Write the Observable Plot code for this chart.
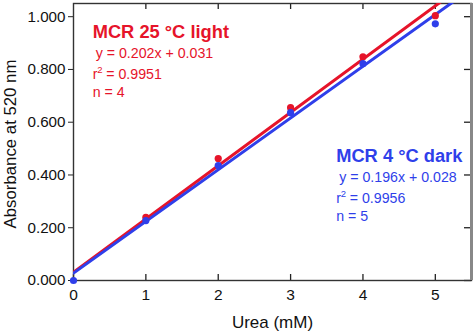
<!DOCTYPE html>
<html>
<head>
<meta charset="utf-8">
<script src="https://cdn.jsdelivr.net/npm/d3@7"></script>
<script src="https://cdn.jsdelivr.net/npm/@observablehq/plot@0.6"></script>
<style>
  html, body { margin: 0; padding: 0; background: #fff; }
  #chart svg { font-family: "Liberation Sans", Arial, sans-serif; display: block; }
</style>
</head>
<body>
<div id="chart"></div>
<script>
// ---- data ----
const urea = [0, 1, 2, 3, 4, 5];
const lightAbs = [null, 0.239, 0.462, 0.655, 0.848, 1.004];   // MCR 25 °C light
const darkAbs  = [0.000, 0.227, 0.436, 0.636, 0.822, 0.973];  // MCR 4 °C dark
const seriesNames = ["MCR 25 °C light", "MCR 4 °C dark"];
const slopes = [0.202, 0.196];
const intercepts = [0.031, 0.028];
const eqLabels = ["y = 0.202x + 0.031", "y = 0.196x + 0.028"];
const r2Labels = ["0.9951", "0.9956"];
const nLabels = ["n = 4", "n = 5"];
const xTicks = [0, 1, 2, 3, 4, 5];
const yTicks = [0, 0.2, 0.4, 0.6, 0.8, 1.0];
const fitRange = [0, 5.5];

const RED = "#e6142a";
const BLUE = "#2f3fea";
const colors = [RED, BLUE];

const W = 474, H = 335, mt = 3, mb = 55, ml = 73, mr = 3;
const FH = H - mt - mb, FW = W - ml - mr;

const points = [];
urea.forEach((u, i) => {
  if (lightAbs[i] != null) points.push({x: u, y: lightAbs[i], s: 0});
  if (darkAbs[i] != null) points.push({x: u, y: darkAbs[i], s: 1});
});
const fits = [];
[0, 1].forEach(s => fitRange.forEach(x => fits.push({x, y: slopes[s] * x + intercepts[s], s})));

// annotation anchors (data coordinates)
const notes = [
  {s: 0, x: 0.265, y: 0.92},
  {s: 1, x: 3.63, y: 0.448}
];

const small = {fill: d => colors[d.s], fontSize: 14.2, textAnchor: "start", lineAnchor: "bottom"};

const plot = Plot.plot({
  width: W, height: H,
  marginTop: mt, marginBottom: mb, marginLeft: ml, marginRight: mr,
  style: {fontFamily: "Liberation Sans, Arial, sans-serif", background: "#fff"},
  x: {type: "linear", domain: [0, 5.5], ticks: xTicks, label: null},
  y: {type: "linear", domain: [0, 1.05], ticks: yTicks, label: null},
  marks: [
    // inward ticks bottom / top / right
    Plot.ruleX(xTicks, {x: d => d, insetTop: FH - 6, stroke: "#222", strokeWidth: 1.3}),
    Plot.ruleX(xTicks.slice(1), {x: d => d, insetBottom: FH - 6, stroke: "#222", strokeWidth: 1.3}),
    Plot.ruleY(yTicks, {y: d => d, insetLeft: FW - 7, stroke: "#222", strokeWidth: 1.3}),
    Plot.axisX({ticks: xTicks, tickSize: 0, tickPadding: 8, fontSize: 15.5, fill: "#111", tickFormat: d3.format("d")}),
    Plot.axisY({ticks: yTicks, tickSize: 5, tickPadding: 3, fontSize: 15.2, fill: "#111", tickFormat: d3.format(".3f"), stroke: "#222"}),
    Plot.frame({stroke: "#333", strokeWidth: 1.4}),
    Plot.ruleX([5.5], {stroke: "#888", strokeWidth: 3}),
    // fit lines
    Plot.line(fits.filter(d => d.s === 0), {x: "x", y: "y", stroke: RED, strokeWidth: 3, clip: true}),
    Plot.line(fits.filter(d => d.s === 1), {x: "x", y: "y", stroke: BLUE, strokeWidth: 3, clip: true}),
    // points
    Plot.dot(points, {x: "x", y: "y", r: 3.6, fill: d => colors[d.s], stroke: "none"}),
    // annotations
    Plot.text(notes, {x: "x", y: "y", text: d => seriesNames[d.s], fill: d => colors[d.s], fontSize: 18.3, fontWeight: "bold", textAnchor: "start", lineAnchor: "bottom"}),
    Plot.text(notes, {x: "x", y: "y", dx: 3, dy: 20, text: d => eqLabels[d.s], ...small}),
    Plot.text(notes, {x: "x", y: "y", dy: 41, text: () => "r", ...small}),
    Plot.text(notes, {x: "x", y: "y", dx: 4.5, dy: 35, text: () => "2", ...small, fontSize: 9.5}),
    Plot.text(notes, {x: "x", y: "y", dx: 13.5, dy: 41, text: d => "= " + r2Labels[d.s], ...small}),
    Plot.text(notes, {x: "x", y: "y", dy: 59, text: d => nLabels[d.s], ...small}),
    // axis titles
    Plot.text(["Urea (mM)"], {frameAnchor: "bottom", dy: 47, text: d => d, fontSize: 17, fill: "#111", lineAnchor: "bottom", textAnchor: "middle"}),
    Plot.text(["Absorbance at 520 nm"], {frameAnchor: "left", dx: -63, dy: 2, rotate: -90, text: d => d, fontSize: 16.8, fill: "#111", textAnchor: "middle", lineAnchor: "middle"})
  ]
});
document.getElementById("chart").appendChild(plot);
</script>
</body>
</html>
